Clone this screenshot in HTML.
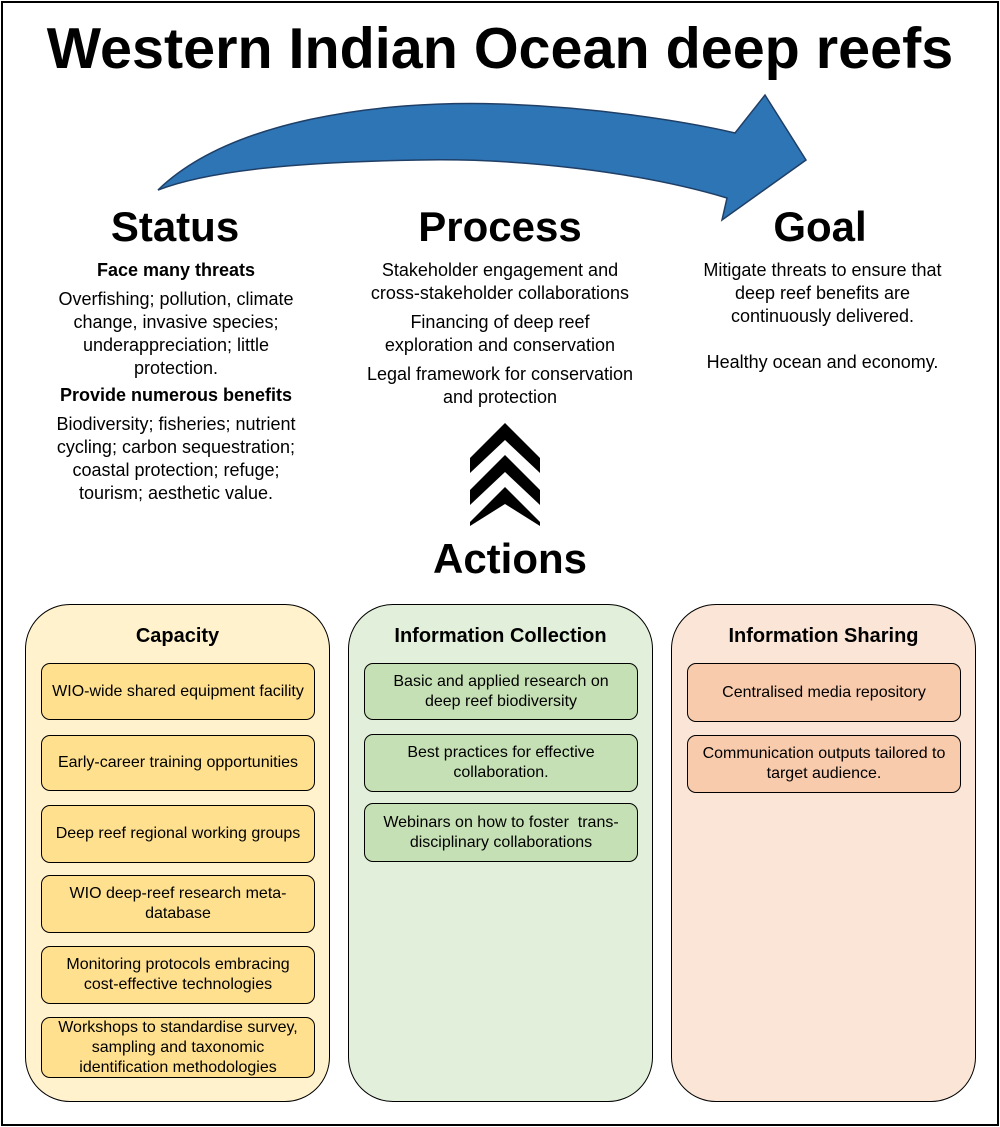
<!DOCTYPE html>
<html><head><style>
body{margin:0;width:1000px;height:1127px;background:#fff;font-family:"Liberation Sans",Arial,sans-serif;position:relative;overflow:hidden}
.frame{position:absolute;left:1px;top:1px;width:994px;height:1121px;border:2px solid #000}
.abs{position:absolute;text-align:center;color:#000}
.h{font-weight:bold;font-size:42px}
.t{font-size:18px;line-height:23px}
.outer{position:absolute;top:604px;width:303px;height:496px;border:1.5px solid #000;border-radius:45px}
.outer .ttl{position:absolute;top:20px;width:100%;text-align:center;font-weight:bold;font-size:20px}
.in{position:absolute;left:15px;width:274px;border:1.5px solid #000;border-radius:9px;display:flex;align-items:center;justify-content:center;text-align:center;font-size:16px;line-height:20px;box-sizing:border-box;padding:0 8px}
</style></head><body>
<div class="frame"></div>
<div class="abs" style="left:0;width:1000px;top:16px;font-size:57.5px;font-weight:bold">Western Indian Ocean deep reefs</div>
<svg style="position:absolute;left:0;top:0" width="1000" height="240">
<path d="M158,190 C230,120 380,100 500,104 C590,107 680,120 735,133 L765,95 L806,160 L722,220 L727,198 C640,172 520,158 420,160 C300,162 210,170 158,190 Z" fill="#2e75b6" stroke="#1f3f66" stroke-width="1.5"/>
</svg>
<div class="abs h" style="left:75px;width:200px;top:203px">Status</div>
<div class="abs h" style="left:380px;width:240px;top:203px">Process</div>
<div class="abs h" style="left:720px;width:200px;top:203px">Goal</div>
<div class="abs t" style="left:45px;width:262px;top:259px"><b>Face many threats</b><div style="height:6px"></div>Overfishing; pollution, climate change, invasive species; underappreciation; little protection.<div style="height:4px"></div><b>Provide numerous benefits</b><div style="height:6px"></div>Biodiversity; fisheries; nutrient cycling; carbon sequestration; coastal protection; refuge; tourism; aesthetic value.</div>
<div class="abs t" style="left:365px;width:270px;top:259px">Stakeholder engagement and cross-stakeholder collaborations<div style="height:6px"></div>Financing of deep reef exploration and conservation<div style="height:6px"></div>Legal framework for conservation and protection</div>
<div class="abs t" style="left:690px;width:265px;top:259px">Mitigate threats to ensure that deep reef benefits are continuously delivered.<br><br>Healthy ocean and economy.</div>
<svg style="position:absolute;left:465px;top:418px" width="80" height="110">
<path d="M5,40 L40,5 L75,40 L75,55 L40,22 L5,55Z" fill="#000"/>
<path d="M5,72 L40,37 L75,72 L75,87 L40,54 L5,87Z" fill="#000"/>
<path d="M5,104 L40,69 L75,104 L75,108 L40,86 L5,108Z" fill="#000"/>
</svg>
<div class="abs h" style="left:400px;width:220px;top:535px">Actions</div>

<div class="outer" style="left:25px;background:#fff2cc"><div class="ttl">Capacity</div>
<div class="in" style="background:#ffe08f;top:58px;height:57px">WIO-wide shared equipment facility</div>
<div class="in" style="background:#ffe08f;top:130px;height:56px">Early-career training opportunities</div>
<div class="in" style="background:#ffe08f;top:200px;height:58px">Deep reef regional working groups</div>
<div class="in" style="background:#ffe08f;top:270px;height:58px">WIO deep-reef research meta-database</div>
<div class="in" style="background:#ffe08f;top:341px;height:58px">Monitoring protocols embracing cost-effective technologies</div>
<div class="in" style="background:#ffe08f;top:412px;height:61px">Workshops to standardise survey, sampling and taxonomic identification methodologies</div>
</div>
<div class="outer" style="left:348px;background:#e2efda"><div class="ttl">Information Collection</div>
<div class="in" style="background:#c5e0b4;top:58px;height:57px;padding:0 20px">Basic and applied research on deep reef biodiversity</div>
<div class="in" style="background:#c5e0b4;top:129px;height:58px">Best practices for effective collaboration.</div>
<div class="in" style="background:#c5e0b4;top:198px;height:59px">Webinars on how to foster&nbsp; trans-disciplinary collaborations</div>
</div>
<div class="outer" style="left:671px;background:#fbe5d6"><div class="ttl">Information Sharing</div>
<div class="in" style="background:#f8cbad;top:58px;height:59px">Centralised media repository</div>
<div class="in" style="background:#f8cbad;top:130px;height:58px">Communication outputs tailored to target audience.</div>
</div>
</body></html>
